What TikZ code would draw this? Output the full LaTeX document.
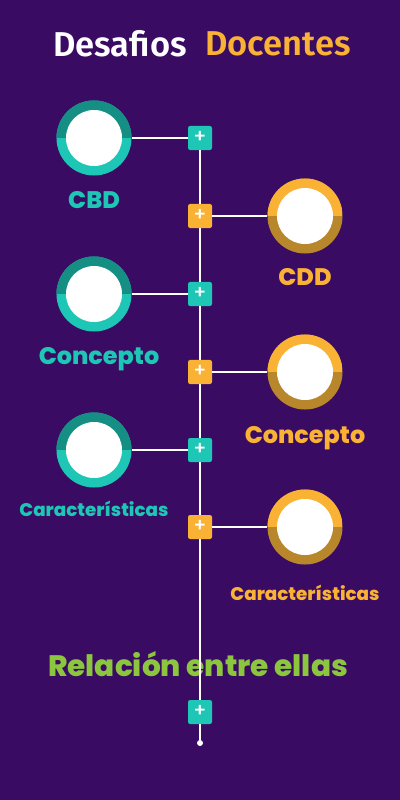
\documentclass[tikz,border=0pt]{standalone}
\usepackage{fontspec}
\setmainfont{Fira Sans}
\newfontfamily\titlefont{Fira Sans}[UprightFont={* SemiBold}]
\newfontfamily\labelfont{Poppins}[BoldFont={Poppins ExtraBold}]
\usetikzlibrary{positioning}
\definecolor{cBg}{HTML}{3A0B62}
\definecolor{cTeal}{HTML}{1EC6B6}
\definecolor{cTealD}{HTML}{158E84}
\definecolor{cOrange}{HTML}{F9B233}
\definecolor{cGold}{HTML}{B8862B}
\definecolor{cGreen}{HTML}{8CC63F}

\begin{document}
\begin{tikzpicture}[
  x=0.025cm, y=-0.025cm,
  title/.style={font=\titlefont\fontsize{24.5}{30}\selectfont, inner sep=0pt},
  lbl/.style={font=\labelfont\fontsize{17}{20}\selectfont\bfseries, inner sep=0pt},
  smalllbl/.style={font=\labelfont\fontsize{13}{15}\selectfont\bfseries, inner sep=0pt},
  ring/.style={circle, minimum size=1.875cm, inner sep=0pt},
  ringL/.style={ring, fill=cTeal, path picture={\fill[cTealD] (path picture bounding box.west) rectangle (path picture bounding box.north east);}},
  ringR/.style={ring, fill=cGold, path picture={\fill[cOrange] (path picture bounding box.west) rectangle (path picture bounding box.north east);}},
  hole/.style={circle, fill=white, minimum size=1.4cm, inner sep=0pt},
  plus/.style={rounded corners=1.5pt, minimum size=0.6cm, inner sep=0pt, text=white, font=\fontsize{18}{18}\selectfont},
  wire/.style={draw=white, line width=0.9pt},
]

% ---------- BACKGROUND ----------
\fill[cBg] (0,0) rectangle (400,800);
\useasboundingbox (0,0) rectangle (400,800);

% ---------- TITLE ----------
\node[title, text=white, anchor=east] (t1) at (187,44) {Desafios};
\node[title, text=cOrange, right=0.45cm of t1] (t2) {Docentes};

% ---------- PLUS BOXES ----------
\node[plus, fill=cTeal] (p1) at (200,138) {+};
\node[plus, fill=cOrange] (p2) at (200,216) {+};
\node[plus, fill=cTeal] (p3) at (200,294) {+};
\node[plus, fill=cOrange] (p4) at (200,372) {+};
\node[plus, fill=cTeal] (p5) at (200,450) {+};
\node[plus, fill=cOrange] (p6) at (200,527) {+};
\node[plus, fill=cTeal] (p7) at (200,712) {+};
\node[circle, fill=white, minimum size=0.15cm, inner sep=0pt] (tail) at (200,743) {};

% ---------- RINGS ----------
\node[ringL] (c1) at (94,138) {};
\node[hole] at (c1.center) {};
\node[ringR] (c2) at (305,216) {};
\node[hole] at (c2.center) {};
\node[ringL] (c3) at (94,294) {};
\node[hole] at (c3.center) {};
\node[ringR] (c4) at (305,372) {};
\node[hole] at (c4.center) {};
\node[ringL] (c5) at (94,450) {};
\node[hole] at (c5.center) {};
\node[ringR] (c6) at (305,527) {};
\node[hole] at (c6.center) {};

% ---------- LABELS ----------
\node[lbl, text=cTeal] (l1) at (94,200) {CBD};
\node[lbl, text=cOrange] (l2) at (305,277) {CDD};
\node[lbl, text=cTeal] (l3) at (99,359) {Concepto};
\node[lbl, text=cOrange] (l4) at (305,438) {Concepto};
\node[smalllbl, text=cTeal] (l5) at (94,509) {Características};
\node[smalllbl, text=cOrange] (l6) at (305,593) {Características};
\node[lbl, text=cGreen, font=\labelfont\fontsize{21}{25}\selectfont\bfseries] (rel) at (198,664) {Relación entre ellas};

% ---------- CONNECTORS ----------
\draw[wire] (p1) -- (p2) -- (p3) -- (p4) -- (p5) -- (p6) -- (p7) -- (tail);
\draw[wire] (c1) -- (p1);
\draw[wire] (c2) -- (p2);
\draw[wire] (c3) -- (p3);
\draw[wire] (c4) -- (p4);
\draw[wire] (c5) -- (p5);
\draw[wire] (c6) -- (p6);

\end{tikzpicture}
\end{document}
